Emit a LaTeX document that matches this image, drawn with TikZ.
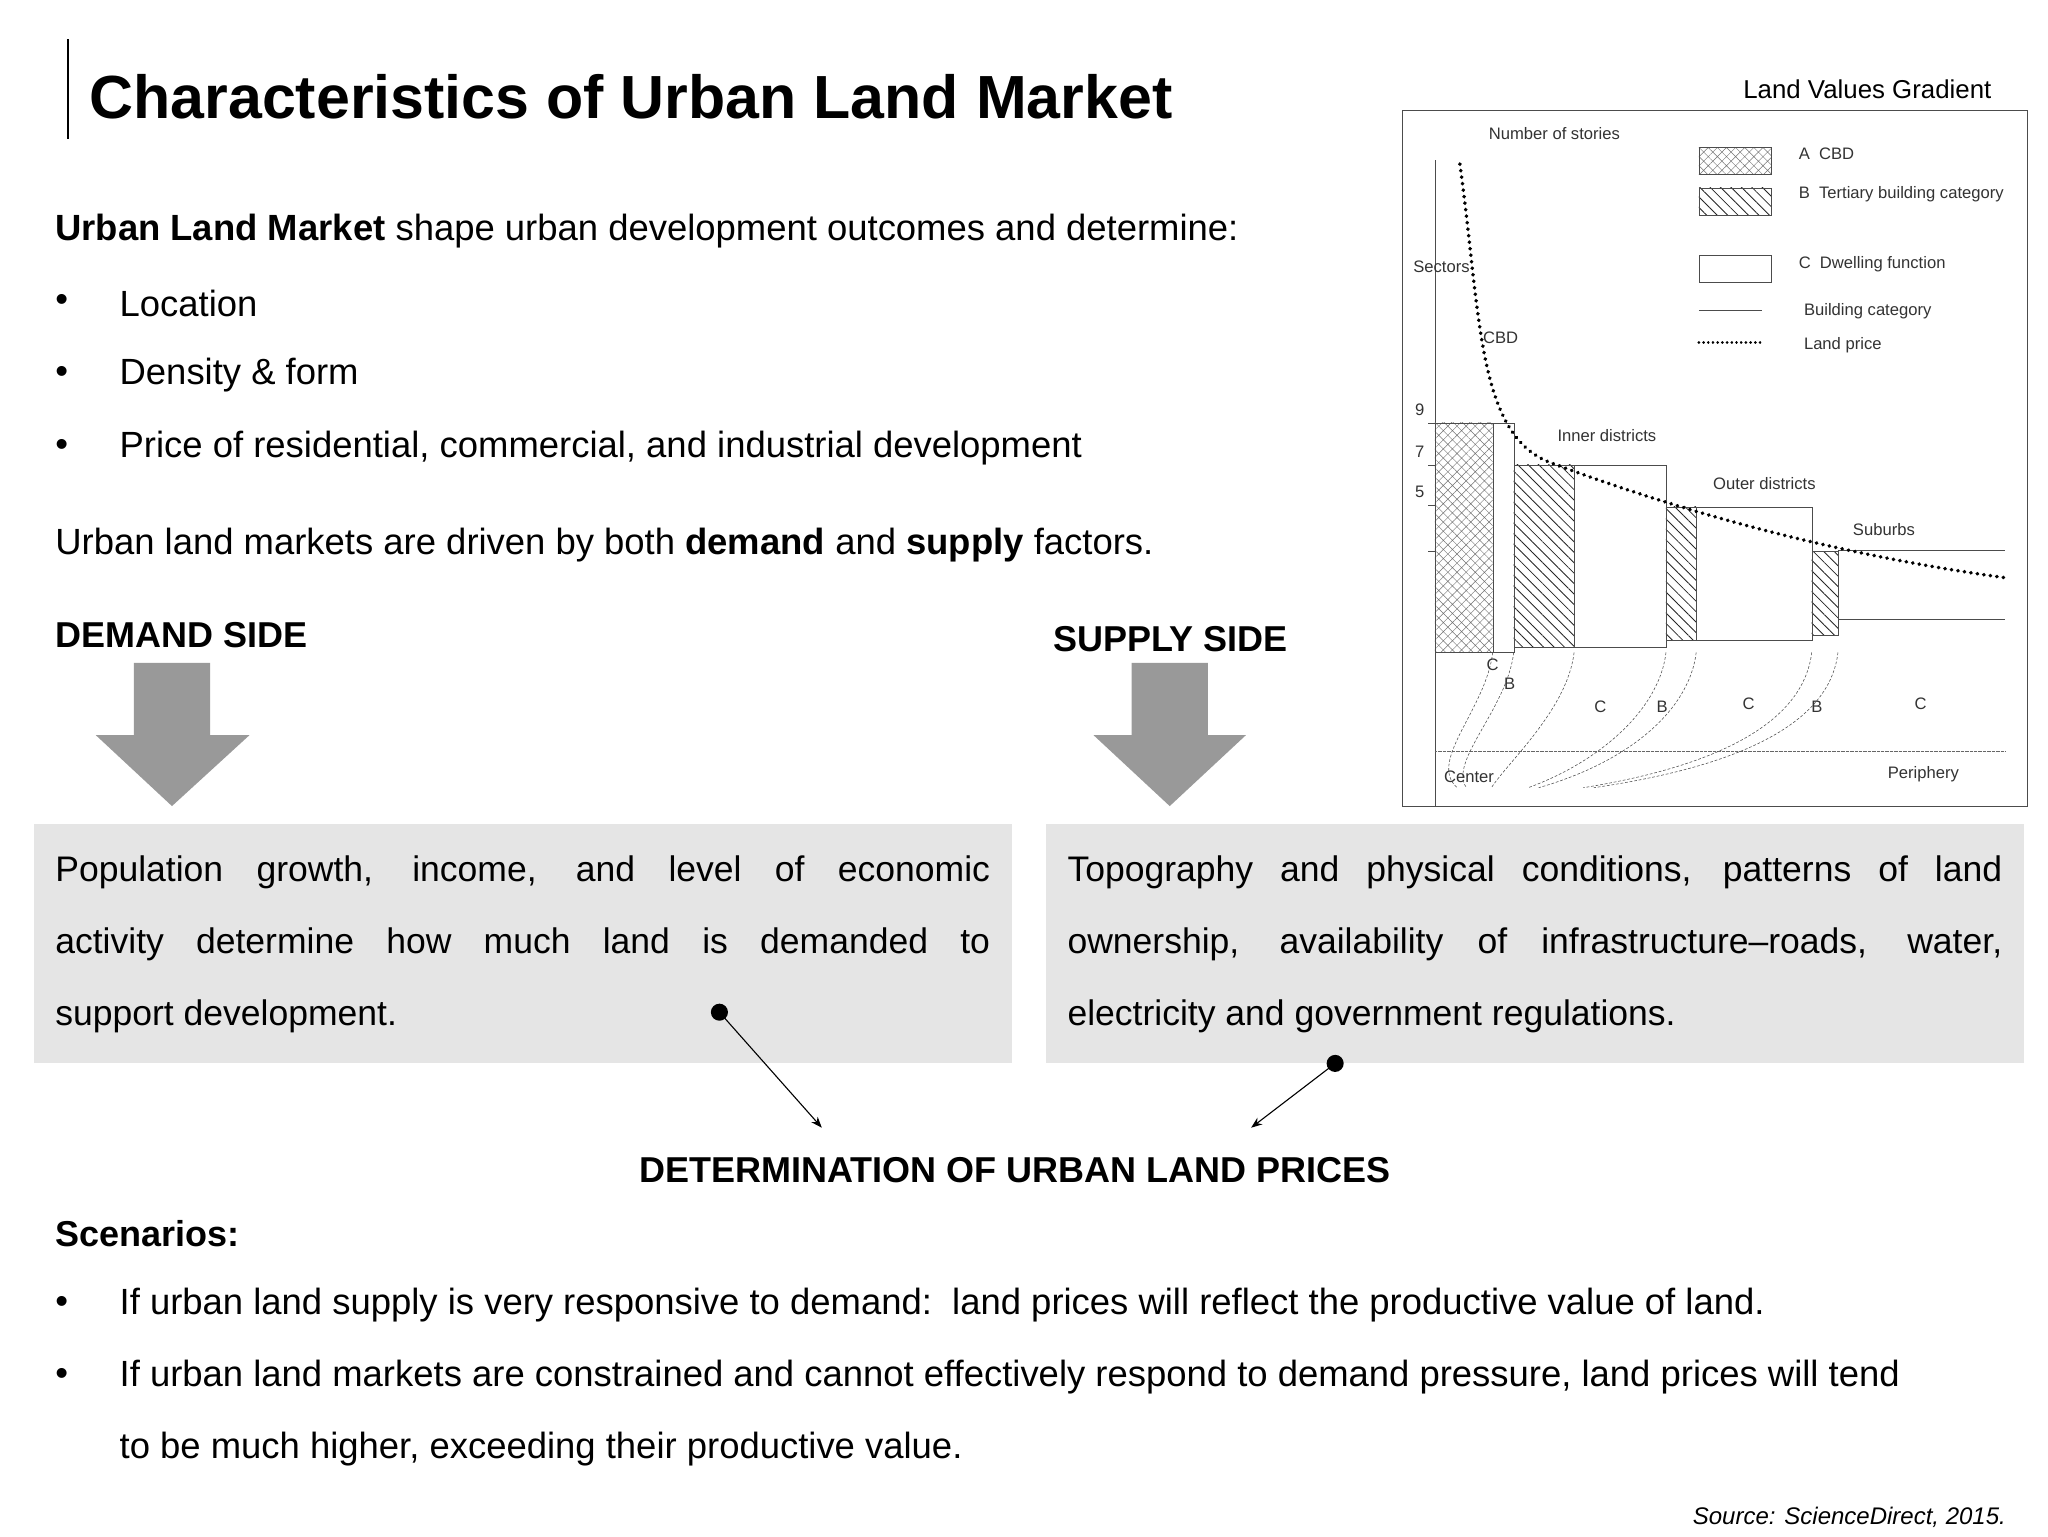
\documentclass[tikz,border=0pt]{standalone}
\usepackage{fontspec}
\setmainfont{Liberation Sans}
\usetikzlibrary{patterns.meta,arrows.meta}
\newcommand{\jline}[1]{\makebox[712\mylen][s]{#1}}
\newlength{\mylen}\setlength{\mylen}{0.05cm}
\begin{document}
\begin{tikzpicture}[x=0.05cm,y=-0.05cm,
  body/.style={anchor=west,inner sep=0pt,font=\fontsize{39.5}{44}\selectfont},
  head/.style={anchor=west,inner sep=0pt,font=\fontsize{39}{44}\selectfont\bfseries},
  sm/.style={inner sep=0pt,font=\fontsize{18}{20}\selectfont,text=black!80},
  gbox/.style={fill=black!10,draw=none},
  barr/.style={fill=black!40,draw=none},
  para/.style={anchor=north west,inner sep=0pt,align=left,font=\fontsize{38.5}{78}\selectfont},
  dotc/.style={line width=4.2pt,dash pattern=on 0.1pt off 7pt,line cap=round},
  xh/.style={pattern={Hatch[angle=45,distance=7pt,line width=0.5pt]},pattern color=black!55},
  lh/.style={pattern={Lines[angle=-45,distance=8pt,line width=0.9pt]},pattern color=black!85},
  arc/.style={densely dashed,line width=0.6pt}]
\useasboundingbox (0,0) rectangle (1560,1170);
\fill[white] (0,0) rectangle (1560,1170);
% title
\draw[line width=2pt] (52,30) -- (52,106);
\node[anchor=west,inner sep=0pt,font=\fontsize{66}{72}\selectfont\bfseries] (title) at (68,74) {Characteristics of Urban Land Market};
% text
\node[body] (t1) at (42,176) {\textbf{Urban Land Market} shape urban development outcomes and determine:};
\foreach \y/\t [count=\i] in {231/Location,286/Density \& form,341/{Price of residential, commercial, and industrial development}}{
  \node[body] (bl\i) at (42,\y) {•};
  \node[body] (b\i) at (91,\y) {\t};
}
\node[body] (t2) at (42,415) {Urban land markets are driven by both \textbf{demand} and \textbf{supply} factors.};
\node[head] (dem) at (42,484) {DEMAND SIDE};
\node[head] (sup) at (802,487) {SUPPLY SIDE};
\fill[barr] (102,505) -- (160,505) -- (160,560) -- (190,560) -- (131,614) -- (73,560) -- (102,560) -- cycle;
\fill[barr] (862,505) -- (920,505) -- (920,560) -- (949,560) -- (891,614) -- (833,560) -- (862,560) -- cycle;
\fill[gbox] (26,628) rectangle (771,810);
\fill[gbox] (797,628) rectangle (1542,810);
\node[para] (dt) at (42,652) {\jline{Population growth, income, and level of economic}\\\jline{activity determine how much land is demanded to}\\support development.};
\node[para] (st) at (813,652) {\jline{Topography and physical conditions, patterns of land}\\\jline{ownership, availability of infrastructure--roads, water,}\\electricity and government regulations.};
\coordinate (d1) at (548,771); \coordinate (d2) at (626,859);
\coordinate (s1) at (1017,810); \coordinate (s2) at (953,859);
\fill (d1) circle (6.5); \fill (s1) circle (6.5);
\draw[line width=1.2pt,-{Stealth[length=12pt]}] (d1) -- (d2);
\draw[line width=1.2pt,-{Stealth[length=12pt]}] (s1) -- (s2);
\node[head,anchor=center] (det) at (773,891) {DETERMINATION OF URBAN LAND PRICES};
\node[head] (sc) at (42,940) {Scenarios:};
\node[body] (sb1) at (42,994) {•};
\node[body] (s1t) at (91,994) {If urban land supply is very responsive to demand:\ \ land prices will reflect the productive value of land.};
\node[body] (sb2) at (42,1049) {•};
\node[body] (s2t) at (91,1049) {If urban land markets are constrained and cannot effectively respond to demand pressure, land prices will tend};
\node[body] (s3t) at (91,1104) {to be much higher, exceeding their productive value.};
\node[anchor=east,inner sep=0pt,font=\fontsize{26}{28}\selectfont\itshape] (src) at (1528,1156) {Source: ScienceDirect, 2015.};
% chart
\node[anchor=east,inner sep=0pt,font=\fontsize{28}{30}\selectfont] (lvg) at (1517,68) {Land Values Gradient};
\draw[black!70,line width=1pt] (1068,84) rectangle (1544,614);
\draw[black!70] (1093,122) -- (1093,614);
\foreach \y/\l in {322/9,354/7,385/5,420/}{\draw[black!70] (1088,\y) -- (1093,\y); \node[sm,anchor=east] at (1085,\y-10) {\l};}
\draw[black!70,xh] (1093,322) rectangle (1137,497);
\draw[black!70] (1137,322) rectangle (1153,497);
\draw[black!70,lh] (1153,354) rectangle (1199,493);
\draw[black!70] (1199,354) rectangle (1269,493);
\draw[black!70,lh] (1269,386) rectangle (1292,488);
\draw[black!70] (1292,386) rectangle (1380,488);
\draw[black!70,lh] (1380,420) rectangle (1400,484);
\draw[black!70] (1400,419) -- (1527,419) (1400,472) -- (1527,472);
\draw[dotc] (1112,125) .. controls (1128,240) and (1125,330) .. (1180,352) .. controls (1260,382) and (1380,420) .. (1527,440);
\draw[black!60,densely dotted] (1093,572) -- (1527,572);
% arcs
\foreach \x/\r in {1137/45,1153/60,1199/105,1269/175,1292/200,1380/290,1400/310}{
  \draw[arc,black!70] (\x,497) .. controls (\x-5,540) and (\x-50,580) .. (\x-0.6*\r,600);
}
\node[sm] at (1184,102) {Number of stories};
\node[sm] at (1098,203) {Sectors};
\node[sm] at (1143,257) {CBD};
\node[sm] at (1224,332) {Inner districts};
\node[sm] at (1344,368) {Outer districts};
\node[sm] at (1435,403) {Suburbs};
\node[sm] at (1137,506) {C};
\node[sm] at (1150,521) {B};
\node[sm] at (1219,538) {C};
\node[sm] at (1266,538) {B};
\node[sm] at (1332,536) {C};
\node[sm] at (1384,538) {B};
\node[sm] at (1463,536) {C};
\node[sm] at (1119,592) {Center};
\node[sm] at (1465,590) {Periphery};
% legend
\draw[black!70,xh] (1294,112) rectangle (1349,133);
\draw[black!70,lh] (1294,143) rectangle (1349,164);
\draw[black!70] (1294,194) rectangle (1349,215);
\draw[black!70] (1294,236) -- (1342,236);
\draw[line width=3pt,dash pattern=on 0.1pt off 5pt,line cap=round] (1294,261) -- (1342,261);
\node[sm,anchor=west] at (1370,117) {A\ \ CBD};
\node[sm,anchor=west] at (1370,148) {B\ \ Tertiary building category};
\node[sm,anchor=west] at (1370,201) {C\ \ Dwelling function};
\node[sm,anchor=west] at (1374,237) {Building category};
\node[sm,anchor=west] at (1374,263) {Land price};
\end{tikzpicture}
\end{document}
